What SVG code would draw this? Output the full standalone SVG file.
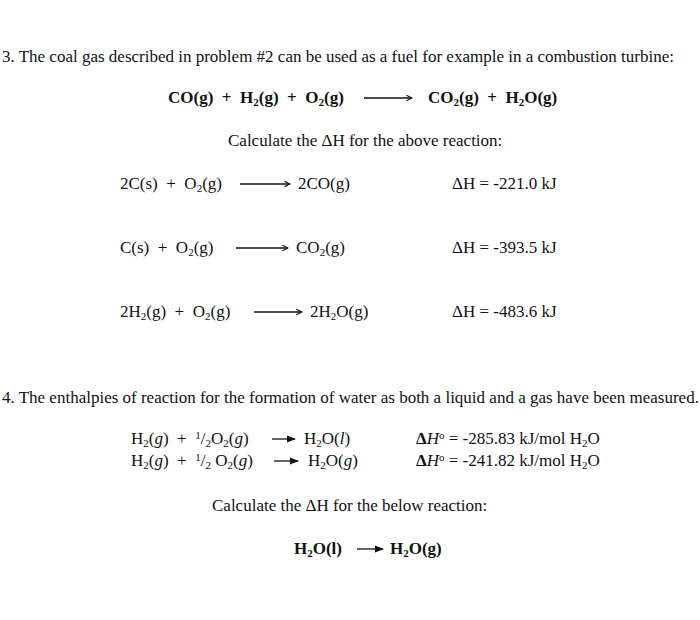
<svg xmlns="http://www.w3.org/2000/svg" width="700" height="620" viewBox="0 0 700 620" xml:space="preserve">
<style>
text{font-family:"Liberation Serif","Times New Roman",serif;font-size:17px;fill:#111;white-space:pre}
.b{font-weight:bold}
.s{font-size:11px}
line{stroke:#111;stroke-width:1.3}
</style>
<defs>
<marker id="a" viewBox="0 0 10 10" refX="9" refY="5" markerWidth="7" markerHeight="7" orient="auto" markerUnits="userSpaceOnUse"><path d="M1,1 L9,5 L1,9" fill="none" stroke="#111" stroke-width="1.5"/></marker>
<marker id="f" viewBox="0 0 10 10" refX="9" refY="5" markerWidth="9" markerHeight="9" orient="auto" markerUnits="userSpaceOnUse"><path d="M0,1 L10,5 L0,9 z" fill="#111"/></marker>
</defs>
<rect width="700" height="620" fill="#fff"/>
<text x="2" y="62">3. The coal gas described in problem #2 can be used as a fuel for example in a combustion turbine:</text>
<text class="b" x="168" y="103">CO(g)  +  H<tspan class="s" dy="3">2</tspan><tspan dy="-3">(g)  +  O</tspan><tspan class="s" dy="3">2</tspan><tspan dy="-3">(g)</tspan></text>
<text class="b" x="428" y="103">CO<tspan class="s" dy="3">2</tspan><tspan dy="-3">(g)  +  H</tspan><tspan class="s" dy="3">2</tspan><tspan dy="-3">O(g)</tspan></text>
<text x="228" y="146">Calculate the ΔH for the above reaction:</text>
<text x="120" y="189">2C(s)  +  O<tspan class="s" dy="3">2</tspan><tspan dy="-3">(g)</tspan></text>
<text x="298" y="189">2CO(g)</text>
<text x="452" y="189">ΔH = -221.0 kJ</text>
<text x="120" y="253">C(s)  +  O<tspan class="s" dy="3">2</tspan><tspan dy="-3">(g)</tspan></text>
<text x="296" y="253">CO<tspan class="s" dy="3">2</tspan><tspan dy="-3">(g)</tspan></text>
<text x="452" y="253">ΔH = -393.5 kJ</text>
<text x="120" y="317">2H<tspan class="s" dy="3">2</tspan><tspan dy="-3">(g)  +  O</tspan><tspan class="s" dy="3">2</tspan><tspan dy="-3">(g)</tspan></text>
<text x="310" y="317">2H<tspan class="s" dy="3">2</tspan><tspan dy="-3">O(g)</tspan></text>
<text x="452" y="317">ΔH = -483.6 kJ</text>
<text x="2" y="403">4. The enthalpies of reaction for the formation of water as both a liquid and a gas have been measured.</text>
<text x="131" y="444">H<tspan class="s" dy="3">2</tspan><tspan dy="-3">(</tspan><tspan font-style="italic">g</tspan>)  +  <tspan class="s" dy="-5">1</tspan><tspan dy="5">/</tspan><tspan class="s" dy="3">2</tspan><tspan dy="-3">O</tspan><tspan class="s" dy="3">2</tspan><tspan dy="-3">(</tspan><tspan font-style="italic">g</tspan>)</text>
<text x="304" y="444">H<tspan class="s" dy="3">2</tspan><tspan dy="-3">O(</tspan><tspan font-style="italic">l</tspan>)</text>
<text x="416" y="444"><tspan class="b">Δ</tspan><tspan font-style="italic">H</tspan><tspan class="s" dy="-5">o</tspan><tspan dy="5"> = -285.83 kJ/mol H</tspan><tspan class="s" dy="3">2</tspan><tspan dy="-3">O</tspan></text>
<text x="131" y="466">H<tspan class="s" dy="3">2</tspan><tspan dy="-3">(</tspan><tspan font-style="italic">g</tspan>)  +  <tspan class="s" dy="-5">1</tspan><tspan dy="5">/</tspan><tspan class="s" dy="3">2</tspan><tspan dy="-3"> O</tspan><tspan class="s" dy="3">2</tspan><tspan dy="-3">(</tspan><tspan font-style="italic">g</tspan>)</text>
<text x="308" y="466">H<tspan class="s" dy="3">2</tspan><tspan dy="-3">O(</tspan><tspan font-style="italic">g</tspan>)</text>
<text x="416" y="466"><tspan class="b">Δ</tspan><tspan font-style="italic">H</tspan><tspan class="s" dy="-5">o</tspan><tspan dy="5"> = -241.82 kJ/mol H</tspan><tspan class="s" dy="3">2</tspan><tspan dy="-3">O</tspan></text>
<text x="212" y="511">Calculate the ΔH for the below reaction:</text>
<text class="b" x="294" y="554">H<tspan class="s" dy="3">2</tspan><tspan dy="-3">O(l)</tspan></text>
<text class="b" x="390" y="554">H<tspan class="s" dy="3">2</tspan><tspan dy="-3">O(g)</tspan></text>
<g id="arrows">
<line x1="364" y1="98" x2="412" y2="98" marker-end="url(#a)"/>
<line x1="240" y1="184" x2="290" y2="184" marker-end="url(#a)"/>
<line x1="236" y1="248" x2="288" y2="248" marker-end="url(#a)"/>
<line x1="254" y1="312" x2="302" y2="312" marker-end="url(#a)"/>
<line x1="272" y1="439" x2="295" y2="439" marker-end="url(#f)"/>
<line x1="274" y1="461" x2="298" y2="461" marker-end="url(#f)"/>
<line x1="357" y1="549" x2="383" y2="549" marker-end="url(#f)"/>
</g>
</svg>
